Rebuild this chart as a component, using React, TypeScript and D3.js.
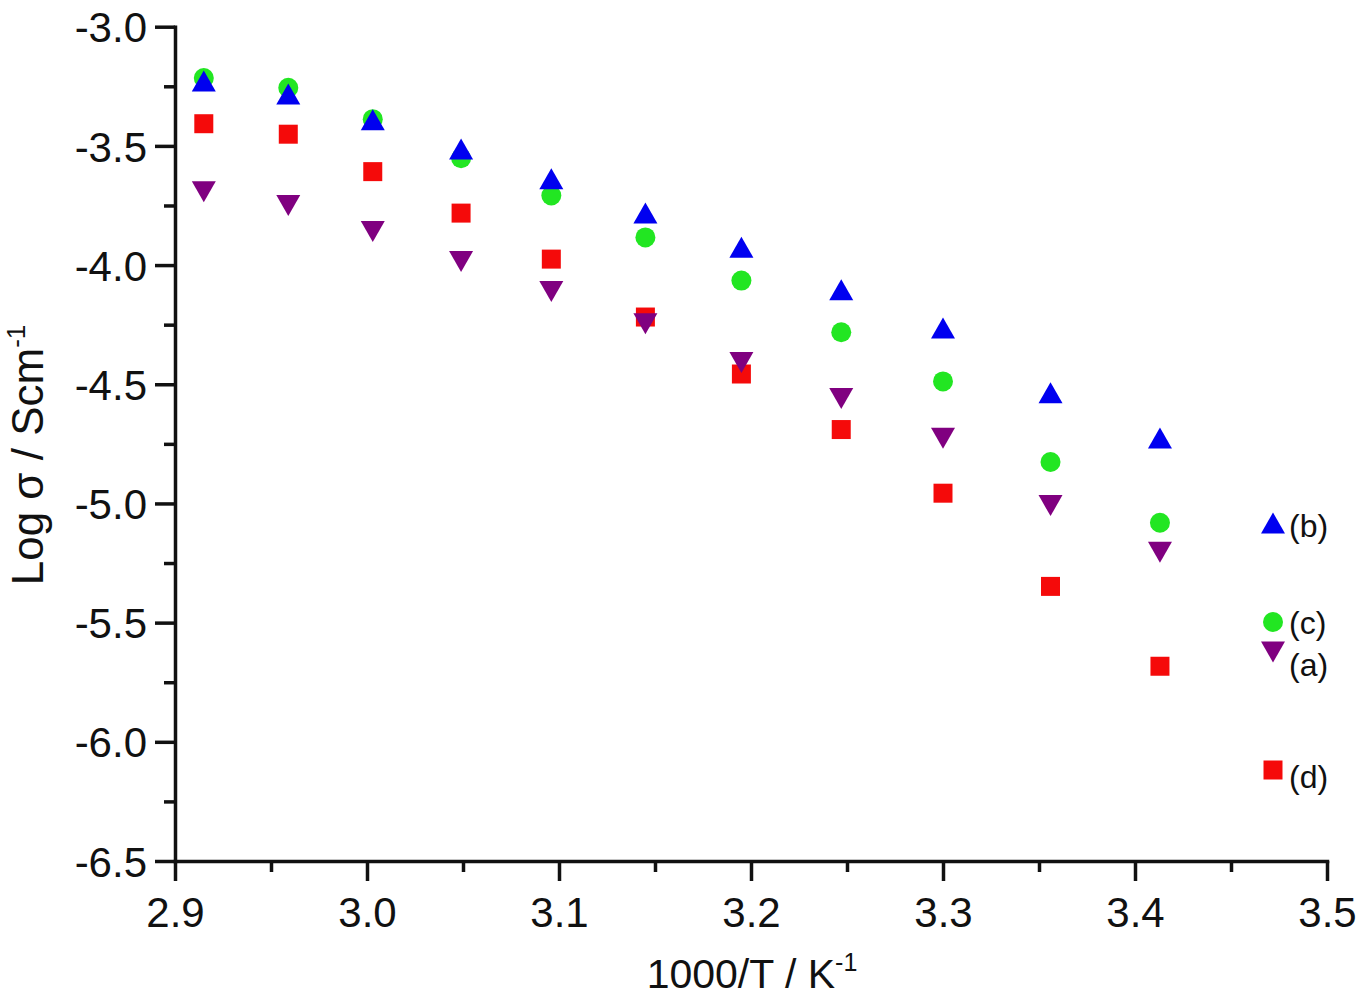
import React, { useEffect, useRef } from "react";
import * as d3 from "d3";

// ---- data ----
const xValues = [2.915, 2.959, 3.003, 3.049, 3.096, 3.145, 3.195, 3.247, 3.3, 3.356, 3.413];
const seriesA = [-3.692, -3.75, -3.859, -3.985, -4.111, -4.246, -4.409, -4.56, -4.727, -5.009, -5.205];
const seriesB = [-3.228, -3.282, -3.39, -3.513, -3.638, -3.782, -3.925, -4.104, -4.264, -4.536, -4.725];
const seriesC = [-3.215, -3.256, -3.388, -3.552, -3.708, -3.884, -4.065, -4.282, -4.488, -4.826, -5.081];
const seriesD = [-3.407, -3.451, -3.608, -3.782, -3.975, -4.218, -4.457, -4.69, -4.957, -5.348, -5.683];
const xTicks = [2.9, 3.0, 3.1, 3.2, 3.3, 3.4, 3.5];
const xMinorTicks = [2.95, 3.05, 3.15, 3.25, 3.35, 3.45];
const yTicks = [-6.5, -6.0, -5.5, -5.0, -4.5, -4.0, -3.5, -3.0];
const yMinorTicks = [-6.25, -5.75, -5.25, -4.75, -4.25, -3.75, -3.25];
const seriesNames = ["(a)", "(b)", "(c)", "(d)"];
const legendOrder = ["(b)", "(c)", "(a)", "(d)"];

// ---- styles ----
const FONT = "'Liberation Sans', Arial, Helvetica, sans-serif";
const styles: Record<string, { color: string; shape: string }> = {
  "(a)": { color: "#800080", shape: "down" },
  "(b)": { color: "#0000f0", shape: "up" },
  "(c)": { color: "#22e622", shape: "circle" },
  "(d)": { color: "#f50a0a", shape: "square" },
};
// legend layout (marker y, text center y)
const legendLayout: Record<string, { my: number; ty: number }> = {
  "(b)": { my: 523, ty: 525 },
  "(c)": { my: 622, ty: 622 },
  "(a)": { my: 652, ty: 664 },
  "(d)": { my: 770, ty: 776 },
};

const W = 1362;
const H = 1000;
const x = d3.scaleLinear().domain([2.9, 3.5]).range([175, 1327]);
const y = d3.scaleLinear().domain([-6.5, -3.0]).range([861, 26.7]);

function markerPath(shape: string): string {
  const tw = 24, th = 21, sq = 19, r = 10;
  if (shape === "up") return `M0,${-th / 2}L${tw / 2},${th / 2}L${-tw / 2},${th / 2}Z`;
  if (shape === "down") return `M0,${th / 2}L${tw / 2},${-th / 2}L${-tw / 2},${-th / 2}Z`;
  if (shape === "square") return `M${-sq / 2},${-sq / 2}h${sq}v${sq}h${-sq}Z`;
  const p = d3.path();
  p.arc(0, 0, r, 0, Math.PI * 2);
  p.closePath();
  return p.toString();
}

export default function App() {
  const gx = useRef<SVGGElement>(null);
  const gxm = useRef<SVGGElement>(null);
  const gy = useRef<SVGGElement>(null);
  const gym = useRef<SVGGElement>(null);

  useEffect(() => {
    const xa = d3.select(gx.current!);
    xa.call(
      d3.axisBottom(x).tickValues(xTicks).tickSize(20).tickSizeOuter(0).tickPadding(16)
        .tickFormat((d) => (d as number).toFixed(1)) as any
    );
    const ya = d3.select(gy.current!);
    ya.call(
      d3.axisLeft(y).tickValues(yTicks).tickSize(20).tickSizeOuter(0).tickPadding(8)
        .tickFormat((d) => (d as number).toFixed(1)) as any
    );
    d3.select(gxm.current!).call(
      d3.axisBottom(x).tickValues(xMinorTicks).tickSize(11).tickFormat(() => "") as any
    );
    d3.select(gym.current!).call(
      d3.axisLeft(y).tickValues(yMinorTicks).tickSize(11).tickFormat(() => "") as any
    );
    [xa, ya].forEach((a) => {
      a.selectAll("text")
        .attr("font-family", FONT)
        .attr("font-size", 42)
        .attr("fill", "#111");
      a.select(".domain").attr("stroke-width", 3.5).attr("stroke", "#111").attr("stroke-linecap", "square");
      a.selectAll(".tick line").attr("stroke-width", 3.5).attr("stroke", "#111");
    });
    ya.selectAll("text").attr("dy", "0.36em");
    [d3.select(gxm.current!), d3.select(gym.current!)].forEach((a) => {
      a.select(".domain").remove();
      a.selectAll(".tick line").attr("stroke-width", 3.5).attr("stroke", "#111");
    });
  }, []);

  const allSeries: Record<string, number[]> = {
    "(a)": seriesA,
    "(b)": seriesB,
    "(c)": seriesC,
    "(d)": seriesD,
  };
  const drawOrder = ["(d)", "(c)", "(a)", "(b)"];

  return (
    <svg
      width={W}
      height={H}
      style={{ position: "absolute", left: 0, top: 0, background: "#fff" }}
      fontFamily={FONT}
    >
      <rect width={W} height={H} fill="#fff" />
      <g ref={gxm} transform={`translate(0,${y(-6.5)})`} />
      <g ref={gym} transform={`translate(${x(2.9)},0)`} />
      <g ref={gx} transform={`translate(0,${y(-6.5)})`} />
      <g ref={gy} transform={`translate(${x(2.9)},0)`} />

      {drawOrder.map((name) => (
        <g key={name} fill={styles[name].color}>
          {allSeries[name].map((v, i) => (
            <path
              key={i}
              d={markerPath(styles[name].shape)}
              transform={`translate(${x(xValues[i])},${y(v)})`}
            />
          ))}
        </g>
      ))}

      {legendOrder.map((name) => (
        <g key={name}>
          <path
            d={markerPath(styles[name].shape)}
            fill={styles[name].color}
            transform={`translate(1273,${legendLayout[name].my})`}
          />
          <text x={1289} y={legendLayout[name].ty} dy="0.36em" fontSize={32} fill="#111">
            {name}
          </text>
        </g>
      ))}

      <text x={752} y={988} textAnchor="middle" fontSize={41} fill="#111">
        1000/T / K
        <tspan fontSize={25} dy={-17}>-1</tspan>
      </text>
      <text
        transform="translate(43,455) rotate(-90)"
        textAnchor="middle"
        fontSize={44}
        fill="#111"
      >
        Log σ / Scm
        <tspan fontSize={26} dy={-18}>-1</tspan>
      </text>
    </svg>
  );
}
